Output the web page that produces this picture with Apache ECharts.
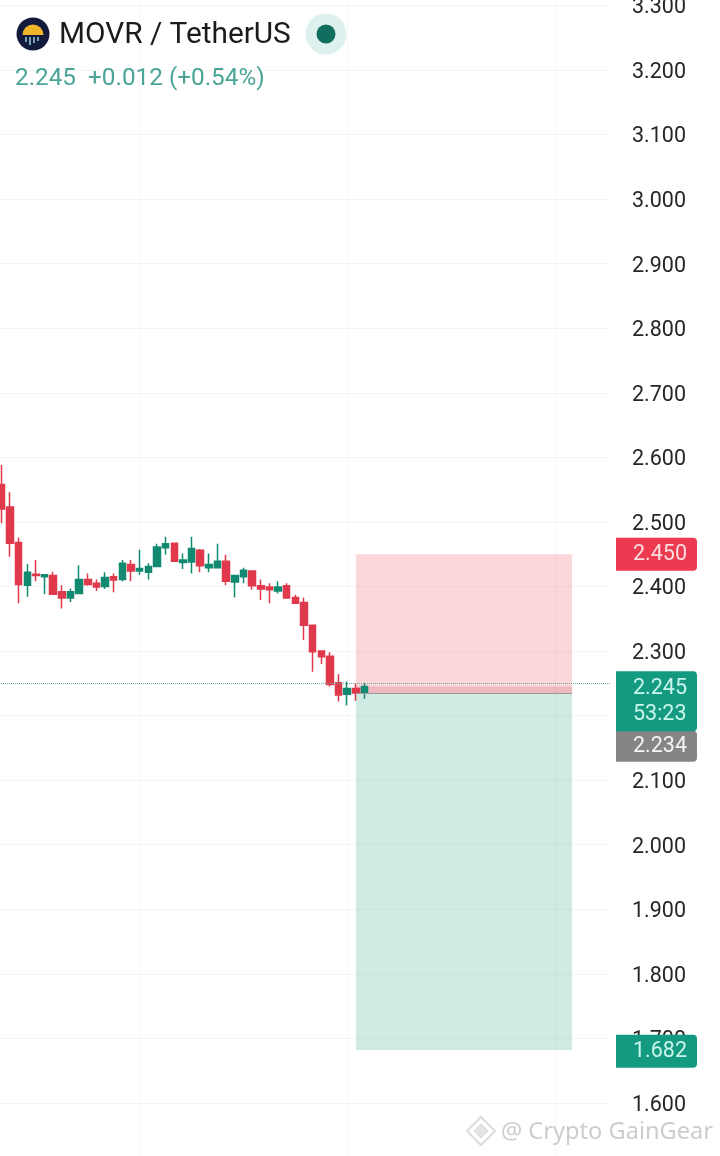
<!DOCTYPE html>
<html>
<head>
<meta charset="utf-8">
<style>html,body{margin:0;padding:0;background:#fff}#c{width:720px;height:1156px}</style>
<script src="https://cdn.jsdelivr.net/npm/echarts@6/dist/echarts.min.js"></script>
</head>
<body>
<div id="c"></div>
<script>
const opens  = [2.558,2.523,2.468,2.402,2.419,2.415,2.417,2.392,2.382,2.389,2.411,2.405,2.400,2.415,2.411,2.434,2.424,2.422,2.431,2.460,2.467,2.437,2.438,2.456,2.429,2.429,2.439,2.407,2.415,2.424,2.401,2.399,2.393,2.401,2.383,2.375,2.340,2.300,2.292,2.251,2.233,2.242,2.235];
const closes = [2.520,2.467,2.403,2.422,2.417,2.418,2.388,2.382,2.392,2.411,2.403,2.399,2.414,2.410,2.436,2.424,2.428,2.431,2.461,2.466,2.439,2.441,2.459,2.432,2.434,2.439,2.408,2.417,2.425,2.401,2.396,2.395,2.399,2.382,2.374,2.340,2.299,2.291,2.248,2.232,2.242,2.235,2.245];
const lows   = [2.498,2.446,2.374,2.384,2.408,2.388,2.388,2.366,2.376,2.389,2.401,2.393,2.396,2.391,2.408,2.408,2.418,2.411,2.431,2.449,2.439,2.427,2.420,2.422,2.422,2.429,2.402,2.383,2.405,2.395,2.379,2.374,2.389,2.382,2.374,2.317,2.268,2.280,2.245,2.222,2.216,2.223,2.226];
const highs  = [2.588,2.546,2.476,2.435,2.441,2.418,2.423,2.402,2.397,2.433,2.420,2.411,2.422,2.420,2.441,2.441,2.457,2.436,2.466,2.477,2.468,2.451,2.477,2.458,2.451,2.466,2.449,2.417,2.429,2.424,2.411,2.405,2.408,2.405,2.387,2.383,2.340,2.301,2.298,2.264,2.253,2.250,2.250];
const slots = Array.from({length:71},(_,i)=>String(i));
const gridColumns = [16,40,64];
const positionStart = 41, positionEnd = 66;
const stopPrice = 2.450, entryPrice = 2.234, targetPrice = 1.682, lastPrice = 2.245;
const countdown = '53:23';
const axisMin = 1.5, axisMax = 3.4, axisStep = 0.1;
const symbol = 'MOVR / TetherUS';
const quote = '2.245  +0.012 (+0.54%)';
const watermark = '@ Crypto GainGear';

const RED='#e0394c', GREEN='#128a72';
function tag(value,bg,color,text,off,pad){
  return {yAxis:value,lineStyle:{color:'transparent'},label:{show:true,position:'end',distance:5,formatter:text,
    backgroundColor:bg,color:color,fontSize:21.5,fontFamily:'Roboto',lineHeight:26,
    padding:pad||[4,10,3,17],borderRadius:[0,4,4,0],offset:[0,off||0]}};
}
const chart = echarts.init(document.getElementById('c'),null,{renderer:'canvas'});
chart.setOption({
  animation:false,
  backgroundColor:'#fff',
  title:[
    {text:symbol,left:54,top:16,textStyle:{fontFamily:'Roboto',fontWeight:400,fontSize:29.8,color:'#1b1b1b'}},
    {text:quote,left:10,top:62,textStyle:{fontFamily:'Roboto',fontWeight:400,fontSize:24.3,color:'#4aa597'}}
  ],
  grid:{left:-3,width:614,top:-59.1,height:1226.6,outerBoundsMode:'none'},
  xAxis:{type:'category',data:slots,show:false},
  yAxis:{type:'value',position:'right',min:axisMin,max:axisMax,interval:axisStep,
    axisLine:{show:false},axisTick:{show:false},
    splitLine:{show:true,lineStyle:{color:'#f5f5f5',width:1}},
    axisLabel:{show:true,margin:21,formatter:v=>'{a|'+v.toFixed(3)+'}',
      rich:{a:{padding:[5,0,0,0],fontFamily:'Roboto',fontSize:21.5,color:'#262626'}}}},
  series:[{
    type:'candlestick',barWidth:7,
    data:opens.map((o,i)=>[o,closes[i],lows[i],highs[i]]),
    itemStyle:{color:GREEN,color0:RED,borderColor:GREEN,borderColor0:RED,borderWidth:1.5},
    markArea:{silent:true,data:[
      [{xAxis:positionStart,yAxis:stopPrice,itemStyle:{color:'rgba(240,100,115,0.26)'}},{xAxis:positionEnd,yAxis:entryPrice}],
      [{xAxis:positionStart,yAxis:entryPrice,itemStyle:{color:'rgba(18,150,120,0.2)'}},{xAxis:positionEnd,yAxis:targetPrice}],
      [{xAxis:positionStart,yAxis:lastPrice,itemStyle:{color:'rgba(210,120,125,0.3)'}},{xAxis:positionEnd,yAxis:entryPrice}]
    ]},
    markLine:{silent:true,symbol:'none',animation:false,data:[
      ...gridColumns.map(c=>({xAxis:c,lineStyle:{color:'rgba(0,0,0,0.035)',width:1,type:'solid'},label:{show:false}})),
      [{xAxis:positionStart,yAxis:entryPrice,lineStyle:{color:'#9a9a9a',width:1,type:'solid'},label:{show:false}},{xAxis:positionEnd,yAxis:entryPrice}],
      {yAxis:lastPrice,lineStyle:{color:'#6aa89c',width:1,type:'dotted'},label:{show:false}},
      tag(stopPrice,'#ee3a50','#fbdde0',stopPrice.toFixed(3)),
      tag(entryPrice,'#858585','#f4f4f4',entryPrice.toFixed(3),50,[4,10,1,17]),
      tag(lastPrice,'#149a80','#c9f6ea',lastPrice.toFixed(3)+'\n'+countdown,18,[6,10,2,17]),
      tag(targetPrice,'#149a80','#c9f6ea',targetPrice.toFixed(3))
    ]}
  }],
  graphic:[
    {type:'circle',shape:{cx:33,cy:34,r:16.5},style:{fill:'#141a3c'},z:10},
    {type:'sector',shape:{cx:33,cy:35,r:10.5,startAngle:Math.PI,endAngle:Math.PI*2},style:{fill:'#f0b429'},z:11},
    ...[-7,-3,1,5].map((d,i)=>({type:'line',shape:{x1:33+d,y1:37,x2:33+d,y2:[42,45,43,41][i]},style:{stroke:'#8fc7d8',lineWidth:1.6},z:11})),
    {type:'circle',shape:{cx:326,cy:34,r:20.5},style:{fill:'#dff1ee'},z:10},
    {type:'circle',shape:{cx:326,cy:34,r:9.5},style:{fill:'#0f6e5e'},z:11},
    {type:'polygon',shape:{points:[[481,1117],[495,1131],[481,1145],[467,1131]]},style:{fill:'none',stroke:'#dcdcdc',lineWidth:2},z:10},
    {type:'polygon',shape:{points:[[481,1124],[488,1131],[481,1138],[474,1131]]},style:{fill:'#e4e4e4',stroke:'#d6d6d6',lineWidth:1},z:10},
    {type:'text',x:501,y:1120,style:{text:watermark,fontFamily:'Noto Sans',fontSize:23.6,fill:'#cdcdcd'},z:10}
  ]
});
</script>
</body>
</html>
